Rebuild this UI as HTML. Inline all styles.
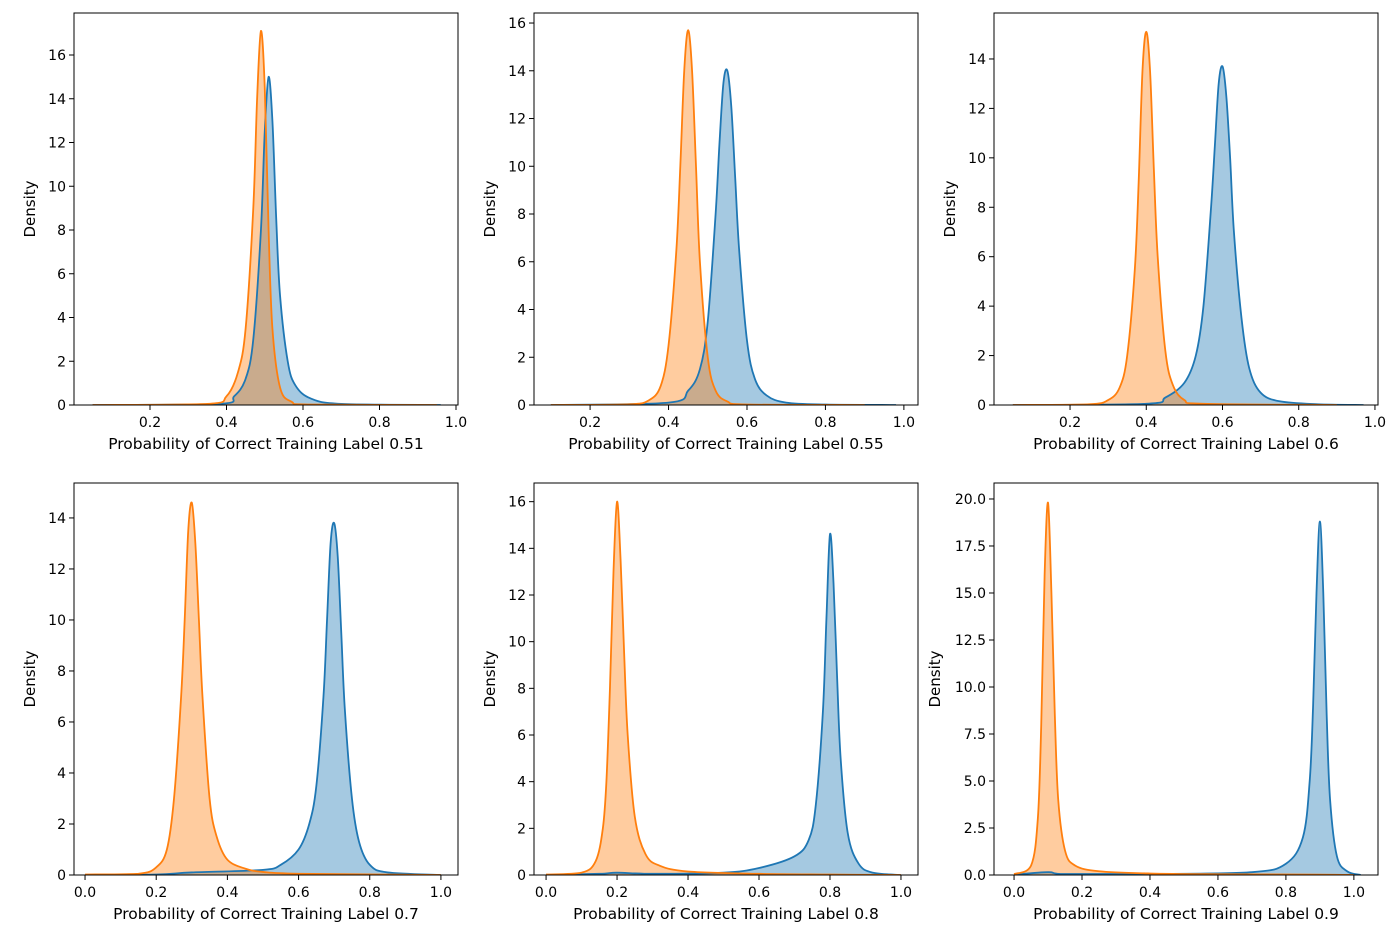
<!DOCTYPE html>
<html><head><meta charset="utf-8"><style>
body{margin:0;background:#fff;}
svg{font-family:"DejaVu Sans","Liberation Sans",sans-serif;}
</style></head><body>
<svg id="fig" width="1400" height="931" xmlns="http://www.w3.org/2000/svg"></svg>
<script>
const labels=["0.51","0.55","0.6","0.7","0.8","0.9"];
const orangeX=[
[0.05,0.35,0.40,0.43,0.45,0.47,0.48,0.49,0.50,0.51,0.52,0.54,0.57,0.62,0.95],
[0.1,0.3,0.35,0.38,0.40,0.42,0.43,0.44,0.45,0.46,0.47,0.48,0.50,0.52,0.55,0.6,0.9],
[0.05,0.25,0.3,0.33,0.35,0.37,0.38,0.39,0.40,0.41,0.42,0.43,0.45,0.47,0.5,0.55,0.9],
[0.0,0.15,0.2,0.23,0.25,0.27,0.28,0.29,0.30,0.31,0.32,0.33,0.35,0.37,0.4,0.45,0.5,0.6,1.0],
[0.0,0.1,0.14,0.16,0.17,0.18,0.19,0.20,0.21,0.22,0.23,0.25,0.28,0.32,0.4,0.6,0.8,1.0],
[0.0,0.05,0.07,0.08,0.09,0.10,0.11,0.12,0.13,0.15,0.18,0.25,0.4,0.6,0.9,1.0]];
const orangeY=[
[0,0.05,0.4,1.5,3.5,9,14,17.1,14.5,8,3.5,0.8,0.15,0.02,0],
[0,0.03,0.2,0.8,2.5,6.5,10,14,15.7,14,10,6,2,0.6,0.15,0.02,0],
[0,0.03,0.2,0.7,2,5.5,9,13.5,15.1,13.5,9.5,6,2.2,0.8,0.2,0.05,0],
[0.02,0.05,0.3,1,3,7,10,13.5,14.6,13,10,7,3,1.5,0.6,0.25,0.12,0.05,0],
[0.02,0.1,0.6,2,4,8,13,16,13.5,9.5,6,2.5,0.9,0.4,0.15,0.05,0.02,0],
[0.05,0.5,3,8,16,19.8,15,8.5,4,1.3,0.5,0.2,0.08,0.04,0.02,0]];
const blueX=[
[0.05,0.38,0.42,0.45,0.47,0.49,0.50,0.51,0.52,0.53,0.54,0.56,0.58,0.62,0.7,0.96],
[0.1,0.4,0.45,0.48,0.50,0.52,0.53,0.54,0.55,0.56,0.57,0.58,0.60,0.62,0.65,0.7,0.8,0.98],
[0.05,0.4,0.45,0.5,0.53,0.55,0.57,0.58,0.59,0.60,0.61,0.62,0.63,0.65,0.67,0.7,0.75,0.85,0.97],
[0.0,0.2,0.3,0.5,0.55,0.6,0.63,0.65,0.67,0.68,0.69,0.70,0.71,0.72,0.73,0.75,0.77,0.8,0.85,1.0],
[0.0,0.15,0.2,0.3,0.5,0.6,0.7,0.74,0.76,0.78,0.79,0.80,0.81,0.82,0.83,0.85,0.88,0.92,1.0],
[0.0,0.1,0.15,0.4,0.7,0.8,0.85,0.87,0.88,0.89,0.90,0.91,0.92,0.93,0.95,0.98,1.02]];
const blueY=[
[0,0.05,0.4,1.2,3,8,12.5,15,13,8.5,5,2,0.9,0.3,0.05,0],
[0,0.1,0.6,1.5,3.5,8,11,13.5,14,12.5,9.5,6.5,2.7,1.1,0.4,0.1,0.02,0],
[0,0.05,0.3,0.9,2,4,8,10.5,13,13.7,12.5,10,7,3.5,1.5,0.5,0.15,0.03,0],
[0,0.02,0.1,0.2,0.4,1,2,3.5,7,10,13,13.8,12.5,9.5,6.5,3,1.3,0.4,0.1,0],
[0,0.05,0.1,0.05,0.1,0.3,0.8,1.5,3,7,11,14.6,12.5,8.5,5,1.8,0.5,0.1,0],
[0.02,0.15,0.05,0.05,0.15,0.6,2,5,9,15,18.8,15,8.5,4,1,0.2,0]];
const xTicks=[[0.2,0.4,0.6,0.8,1.0],[0.0,0.2,0.4,0.6,0.8,1.0]];
const yTickStep=[2,2,2,2,2,2.5];
const yTickMax=[16,16,14,14,16,20];
// layout (not data)
const boxes=[[74,13],[534,13],[994,13],[74,483],[534,483],[994,483]];
const W=384,H=392;
const xlims=[[0.0013,1.0052],[0.057,1.036],[0.0005,1.008],[-0.031,1.048],[-0.034,1.048],[-0.059,1.071]];
const ylims=[17.92,16.42,15.86,15.37,16.8,20.85];
const svg=document.getElementById('fig');
const NS="http://www.w3.org/2000/svg";
function mk(t,a,p){const e=document.createElementNS(NS,t);for(const k in a)e.setAttribute(k,a[k]);(p||svg).appendChild(e);return e;}
function smooth(pts){let d="M"+pts[0][0]+","+pts[0][1];for(let i=0;i<pts.length-1;i++){const p0=pts[Math.max(0,i-1)],p1=pts[i],p2=pts[i+1],p3=pts[Math.min(pts.length-1,i+2)];
const c1=[p1[0]+(p2[0]-p0[0])/6,p1[1]+(p2[1]-p0[1])/6],c2=[p2[0]-(p3[0]-p1[0])/6,p2[1]-(p3[1]-p1[1])/6];
c1[1]=Math.min(c1[1],Math.max(p1[1],p2[1]));c2[1]=Math.min(c2[1],Math.max(p1[1],p2[1]));
d+=" C"+c1[0]+","+c1[1]+" "+c2[0]+","+c2[1]+" "+p2[0]+","+p2[1];}return d;}
for(let i=0;i<6;i++){
 const [bx,by]=boxes[i];const [x0,x1]=xlims[i];const ym=ylims[i];
 const sx=v=>bx+(v-x0)/(x1-x0)*W, sy=v=>by+H-v/ym*H;
 const g=mk('g',{});
 
 
 const cp=mk('clipPath',{id:'c'+i},g);mk('rect',{x:bx,y:by,width:W,height:H},cp);
 const series=[[blueX[i],blueY[i],'#1f77b4','rgba(31,119,180,0.4)','blue'],[orangeX[i],orangeY[i],'#ff7f0e','rgba(255,127,14,0.4)','orange']];
 for(const s of series){
  const pts=s[0].map((x,k)=>[sx(x),sy(s[1][k])]);
  const d=smooth(pts);
  const a=mk('path',{d:d+" L"+pts[pts.length-1][0]+","+sy(0)+" L"+pts[0][0]+","+sy(0)+"Z",fill:s[3],stroke:'none','clip-path':'url(#c'+i+')'},g);
  
  
 }
 for(const s of series){
  const pts=s[0].map((x,k)=>[sx(x),sy(s[1][k])]);
  const l=mk('path',{d:smooth(pts),fill:'none',stroke:s[2],'stroke-width':1.8,'clip-path':'url(#c'+i+')'},g);
  
  
 }
 const fr=mk('rect',{x:bx,y:by,width:W,height:H,fill:'none',stroke:'#000','stroke-width':1},g);
 
 
 const xt=i<3?xTicks[0]:xTicks[1];
 for(const t of xt){const x=sx(t);mk('line',{x1:x,x2:x,y1:by+H,y2:by+H+5,stroke:'#000'},g);
  const tx=mk('text',{x:x,y:by+H+22,'text-anchor':'middle','font-size':14},g);tx.textContent=t.toFixed(1);
  
  }
 const st=yTickStep[i];
 for(let v=0;v<=yTickMax[i]+1e-9;v+=st){const y=sy(v);mk('line',{x1:bx-5,x2:bx,y1:y,y2:y,stroke:'#000'},g);
  const tx=mk('text',{x:bx-8,y:y+5,'text-anchor':'end','font-size':14},g);tx.textContent=st%1?v.toFixed(1):String(v);
  
  }
 const xl=mk('text',{x:bx+W/2,y:by+H+44,'text-anchor':'middle','font-size':15.5},g);xl.textContent='Probability of Correct Training Label '+labels[i];
 
 
 const yx=i==5?bx-54:bx-39;
 const yl=mk('text',{x:yx,y:by+H/2,'text-anchor':'middle','font-size':15,transform:'rotate(-90 '+yx+' '+(by+H/2)+')'},g);yl.textContent='Density';
 
 
}
</script>
</body></html>
